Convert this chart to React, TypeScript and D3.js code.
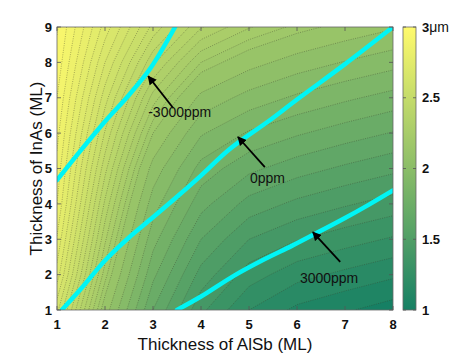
import React from "react";
import * as d3 from "d3";

// Thickness axes (ML)
const alsbThickness = [1, 2, 3, 4, 5, 6, 7, 8];
const inasThickness = [1, 2, 3, 4, 5, 6, 7, 8, 9];

// Cutoff wavelength (um); one row per InAs thickness (1..9), columns AlSb thickness (1..8)
const wavelength = [
  [2.62, 2.12, 1.68, 1.38, 1.2, 1.1, 1.05, 1.0],
  [2.72, 2.22, 1.78, 1.49, 1.32, 1.23, 1.18, 1.135],
  [2.78, 2.3, 1.87, 1.6, 1.44, 1.365, 1.315, 1.27],
  [2.83, 2.37, 1.96, 1.71, 1.57, 1.5, 1.45, 1.405],
  [2.86, 2.44, 2.05, 1.81, 1.7, 1.635, 1.585, 1.54],
  [2.89, 2.51, 2.16, 1.93, 1.83, 1.77, 1.72, 1.675],
  [2.92, 2.58, 2.27, 2.06, 1.97, 1.905, 1.855, 1.81],
  [2.95, 2.65, 2.39, 2.2, 2.11, 2.045, 1.995, 1.95],
  [2.97, 2.72, 2.5, 2.34, 2.25, 2.185, 2.135, 2.09],
];

// contour levels (um)
const levelsLow = d3.range(1.04, 2.2, 0.08);
const levelsHigh = d3.range(2.2, 2.99, 0.045);

// strain iso-lines [AlSb, InAs]
const strainMinus3000 = [
  [1.0, 4.67], [1.5, 5.52], [2.0, 6.33], [2.5, 7.08], [2.95, 7.84], [3.46, 9.0],
];
const strainZero = [
  [1.1, 1.0], [1.5, 1.6], [2.0, 2.4], [2.5, 3.05], [3.0, 3.62], [3.5, 4.2],
  [4.0, 4.8], [4.6, 5.55], [5.44, 6.37], [6.0, 6.95], [7.0, 7.95], [8.0, 9.0],
];
const strainPlus3000 = [
  [3.5, 1.0], [4.0, 1.38], [4.7, 1.98], [5.3, 2.42], [5.9, 2.82], [6.4, 3.17],
  [7.0, 3.6], [7.5, 3.98], [8.0, 4.38],
];

// annotations: label, tip, tail, label anchor
const annLabels = ["-3000ppm", "0ppm", "3000ppm"];
const annTips = [[2.9, 7.61], [4.77, 5.89], [6.33, 3.2]];
const annTails = [[3.42, 6.71], [5.33, 5.04], [6.9, 2.36]];
const annText = [[2.9, 6.46], [5.02, 4.59], [6.06, 1.76]];

const xTicks = [1, 2, 3, 4, 5, 6, 7, 8];
const yTicks = [1, 2, 3, 4, 5, 6, 7, 8, 9];
const cbTicks = [1, 1.5, 2, 2.5, 3];
const cbLabels = ["1", "1.5", "2", "2.5", "3"];

const FONT = "'Liberation Sans', Arial, Helvetica, sans-serif";

export default function App() {
  const W = 474, H = 355;
  const L = 57, R = 393, T = 27, B = 310;
  const x = d3.scaleLinear().domain([1, 8]).range([L, R]);
  const y = d3.scaleLinear().domain([1, 9]).range([B, T]);
  const cb = d3.scaleLinear().domain([1, 3]).range([B, T]);
  const color = d3
    .scaleLinear<string>()
    .domain([1, 3])
    .range(["rgb(22,128,100)", "rgb(255,250,108)"])
    .interpolate(d3.interpolateRgb)
    .clamp(true);

  const nx = alsbThickness.length, ny = inasThickness.length;
  const values: number[] = [];
  for (let j = 0; j < ny; j++) for (let i = 0; i < nx; i++) values.push(wavelength[j][i]);
  const thresholds = [...levelsLow, ...levelsHigh];
  const contours = d3.contours().size([nx, ny]).thresholds(thresholds)(values);

  const proj = d3.geoTransform({
    point(px: number, py: number) {
      const dx = alsbThickness[0] + (px - 0.5) * (alsbThickness[1] - alsbThickness[0]);
      const dy = inasThickness[0] + (py - 0.5) * (inasThickness[1] - inasThickness[0]);
      (this as any).stream.point(x(dx), y(dy));
    },
  });
  const path = d3.geoPath(proj as any);
  const maxV = d3.max(values) as number;
  const bandColor = (k: number) => {
    const lo = thresholds[k];
    const hi = k + 1 < thresholds.length ? thresholds[k + 1] : Math.max(maxV, lo);
    return color((lo + hi) / 2);
  };

  const line = d3
    .line<number[]>()
    .x((d) => x(d[0]))
    .y((d) => y(d[1]))
    .curve(d3.curveCatmullRom);

  const cbStops = d3.range(0, 1.0001, 0.1);
  const cbX = 403, cbW = 13;

  return (
    <svg
      width={W}
      height={H}
      style={{ position: "absolute", left: 0, top: 0, background: "#fff" }}
      fontFamily={FONT}
    >
      <defs>
        <clipPath id="plotclip">
          <rect x={L} y={T} width={R - L} height={B - T} />
        </clipPath>
        <linearGradient id="cbgrad" x1="0" y1="1" x2="0" y2="0">
          {cbStops.map((s) => (
            <stop key={s} offset={s} stopColor={color(1 + 2 * s)} />
          ))}
        </linearGradient>
        <marker
          id="arrowhead"
          viewBox="0 0 10 10"
          refX="9"
          refY="5"
          markerWidth="5"
          markerHeight="5"
          orient="auto-start-reverse"
        >
          <path d="M0,0 L10,5 L0,10 z" fill="#000" />
        </marker>
      </defs>

      <g clipPath="url(#plotclip)">
        <rect x={L} y={T} width={R - L} height={B - T} fill={color(1.0)} />
        {contours.map((c, k) => (
          <path key={"f" + k} d={path(c as any) || ""} fill={bandColor(k)} stroke="none" />
        ))}
        {contours.map((c, k) => (
          <path
            key={"l" + k}
            d={path(c as any) || ""}
            fill="none"
            stroke="#3a3a2a"
            strokeOpacity={0.55}
            strokeWidth={0.7}
            strokeDasharray="1 1.3"
          />
        ))}
        {[strainMinus3000, strainZero, strainPlus3000].map((s, k) => (
          <path
            key={"s" + k}
            d={line(s) || ""}
            fill="none"
            stroke="#00f5f5"
            strokeWidth={4.5}
            strokeLinecap="round"
          />
        ))}
      </g>

      {/* plot box */}
      <rect x={L} y={T} width={R - L} height={B - T} fill="none" stroke="#666" strokeWidth={0.8} />
      {xTicks.map((t) => (
        <g key={"xt" + t}>
          <line x1={x(t)} x2={x(t)} y1={B} y2={B - 4} stroke="#555" strokeWidth={0.8} />
          <line x1={x(t)} x2={x(t)} y1={T} y2={T + 4} stroke="#555" strokeWidth={0.8} />
          <text x={x(t)} y={329} textAnchor="middle" fontSize={13} fontWeight="bold" fill="#111">
            {t}
          </text>
        </g>
      ))}
      {yTicks.map((t) => (
        <g key={"yt" + t}>
          <line x1={L} x2={L + 4} y1={y(t)} y2={y(t)} stroke="#555" strokeWidth={0.8} />
          <line x1={R} x2={R - 4} y1={y(t)} y2={y(t)} stroke="#555" strokeWidth={0.8} />
          <text x={52} y={y(t)} dy="0.36em" textAnchor="end" fontSize={13} fontWeight="bold" fill="#111">
            {t}
          </text>
        </g>
      ))}

      {/* annotations */}
      {annLabels.map((lab, k) => (
        <g key={"a" + k}>
          <line
            x1={x(annTails[k][0])}
            y1={y(annTails[k][1])}
            x2={x(annTips[k][0])}
            y2={y(annTips[k][1])}
            stroke="#000"
            strokeWidth={1.8}
            markerEnd="url(#arrowhead)"
          />
          <text x={x(annText[k][0])} y={y(annText[k][1])} fontSize={14} fill="#111">
            {lab}
          </text>
        </g>
      ))}

      {/* axis titles */}
      <text x={(L + R) / 2} y={350} textAnchor="middle" fontSize={17} fill="#111">
        Thickness of AlSb (ML)
      </text>
      <text
        transform={`translate(42,${(T + B) / 2}) rotate(-90)`}
        textAnchor="middle"
        fontSize={17}
        fill="#111"
      >
        Thickness of InAs (ML)
      </text>

      {/* colorbar */}
      <rect x={cbX} y={cb(3)} width={cbW} height={cb(1) - cb(3)} fill="url(#cbgrad)" stroke="#666" strokeWidth={0.8} />
      {cbTicks.map((t, k) => (
        <g key={"cb" + k}>
          <line x1={cbX + cbW} x2={cbX + cbW - 3} y1={cb(t)} y2={cb(t)} stroke="#555" strokeWidth={0.8} />
          <line x1={cbX} x2={cbX + 3} y1={cb(t)} y2={cb(t)} stroke="#555" strokeWidth={0.8} />
          <text x={422} y={cb(t)} dy="0.36em" fontSize={13} fill="#111">
            <tspan fontWeight="bold">{cbLabels[k]}</tspan>
            {k === cbTicks.length - 1 ? <tspan fontSize={14}>μm</tspan> : null}
          </text>
        </g>
      ))}
    </svg>
  );
}
